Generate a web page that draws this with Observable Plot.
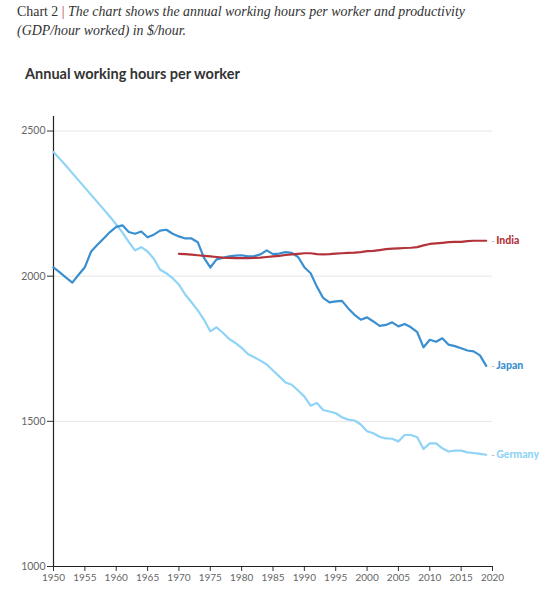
<!DOCTYPE html>
<html>
<head>
<meta charset="utf-8">
<script src="https://cdn.jsdelivr.net/npm/d3@7"></script>
<script src="https://cdn.jsdelivr.net/npm/@observablehq/plot@0.6"></script>
<style>
  html, body { margin: 0; padding: 0; background: #fff; width: 555px; height: 589px; overflow: hidden; }
  #head { position: absolute; left: 17px; top: 2px; font-family: "Liberation Serif", serif; font-size: 13.9px; line-height: 19px; color: #333; white-space: nowrap; }
  #head .pipe { color: #b3333b; }
  #head i { color: #333; }
  #title { position: absolute; left: 25px; top: 65px; font-family: Lato, sans-serif; font-weight: bold; font-size: 14.5px; color: #333; white-space: nowrap; }
  #chart { position: absolute; left: 0; top: 100px; }
</style>
</head>
<body>
<div id="head">Chart 2 <span class="pipe">|</span> <i>The chart shows the annual working hours per worker and productivity<br>(GDP/hour worked) in $/hour.</i></div>
<div id="title">Annual working hours per worker</div>
<div id="chart"></div>
<script>
const japanYears = d3.range(1950, 2020);
const japanHours = [2030,2013,1995,1978,2005,2031,2085,2108,2130,2152,
  2170,2175,2152,2146,2154,2134,2143,2157,2160,2146,
  2137,2130,2130,2117,2063,2030,2058,2063,2068,2071,
  2072,2068,2069,2075,2089,2076,2078,2083,2080,2066,
  2031,2010,1964,1925,1910,1913,1915,1889,1867,1850,
  1858,1844,1829,1832,1841,1827,1835,1824,1807,1755,
  1781,1774,1786,1764,1759,1752,1744,1741,1727,1691];
const germanyYears = d3.range(1950, 2020);
const germanyHours = [2428,2404,2380,2355,2330,2305,2280,2255,2230,2205,
  2178,2150,2118,2089,2100,2085,2060,2022,2010,1993,
  1971,1937,1910,1882,1850,1810,1824,1805,1784,1770,
  1753,1732,1721,1709,1696,1675,1655,1634,1626,1606,
  1585,1554,1563,1539,1534,1528,1514,1506,1503,1489,
  1466,1459,1447,1441,1440,1431,1453,1453,1445,1405,
  1424,1424,1407,1396,1399,1399,1393,1391,1388,1385];
const indiaYears = d3.range(1970, 2020);
const indiaHours = [2077,2076,2074,2072,2070,2068,2066,2064,2063,2062,
  2062,2062,2063,2064,2066,2068,2070,2073,2075,2077,
  2079,2079,2076,2075,2076,2078,2079,2080,2081,2083,
  2086,2087,2090,2093,2095,2096,2097,2098,2100,2106,
  2111,2113,2115,2117,2118,2118,2121,2122,2122,2122];
const countries = ["Germany", "Japan", "India"];
const colors = ["#8fd4f6", "#3a8fd0", "#b3333b"];
const yTicks = [1000, 1500, 2000, 2500];
const xTicks = d3.range(1950, 2021, 5);

const series = [
  {name: "Germany", years: germanyYears, hours: germanyHours},
  {name: "Japan", years: japanYears, hours: japanHours},
  {name: "India", years: indiaYears, hours: indiaHours}
];
const data = series.flatMap(s => s.years.map((y, i) => ({country: s.name, year: y, hours: s.hours[i]})));
const last = series.map(s => ({country: s.name, year: s.years[s.years.length - 1], hours: s.hours[s.hours.length - 1]}));

const plot = Plot.plot({
  width: 555,
  height: 490,
  marginLeft: 53,
  marginRight: 63,
  marginTop: 16,
  marginBottom: 24,
  style: {fontFamily: "Lato, sans-serif", fontSize: "10px", background: "#fff", overflow: "visible"},
  x: {domain: [1950, 2020]},
  y: {domain: [1000, 2550]},
  color: {domain: countries, range: colors},
  marks: [
    Plot.gridY([1500, 2000, 2500], {stroke: "#e6e6e6", strokeOpacity: 1}),
    Plot.axisY({ticks: yTicks, tickFormat: d3.format("d"), tickSize: 6, tickPadding: 2, stroke: "#333", fill: "#666", label: null, fontSize: 10.5}),
    Plot.axisX({ticks: xTicks, tickFormat: d3.format("d"), tickSize: 5, tickPadding: 2, stroke: "#333", fill: "#666", label: null}),
    Plot.ruleX([1950], {stroke: "#222", strokeWidth: 1.2}),
    Plot.ruleY([1000], {stroke: "#222", strokeWidth: 1.2}),
    Plot.line(data, {x: "year", y: "hours", z: "country", stroke: "country", strokeWidth: 2.2, curve: "linear"}),
    Plot.text(last, {x: "year", y: "hours", text: () => "-", fill: "#aaa", dx: 5, textAnchor: "start"}),
    Plot.text(last, {x: "year", y: "hours", text: "country", fill: "country", dx: 10, textAnchor: "start", fontWeight: 900, fontSize: 10.5})
  ]
});
document.getElementById("chart").appendChild(plot);
</script>
</body>
</html>
